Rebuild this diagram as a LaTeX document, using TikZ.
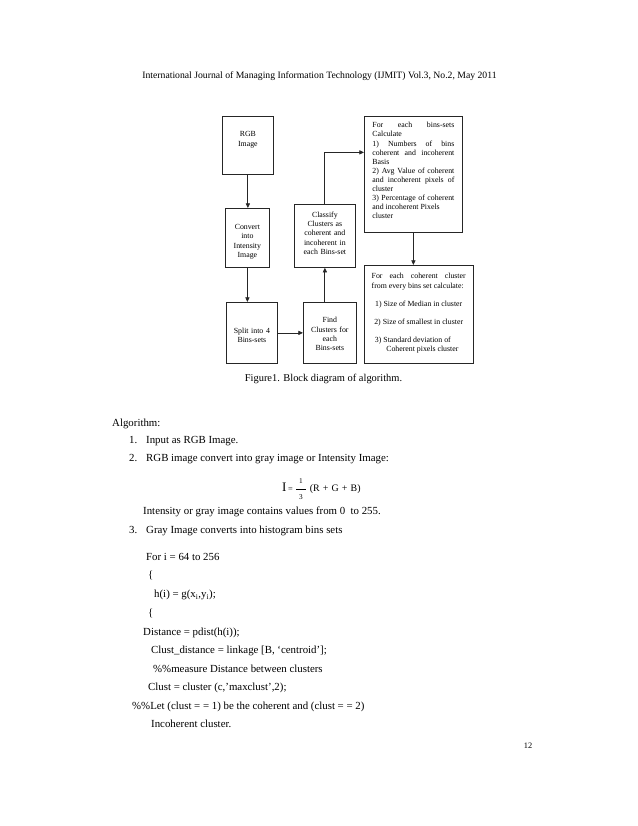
\documentclass[tikz,border=0pt]{standalone}
\usepackage{fontspec}
\setmainfont{Liberation Serif}
\usepackage{tikz}
\usetikzlibrary{arrows.meta}

\tikzset{
  blk/.style={draw=black!85, line width=0.75pt, anchor=north west, inner xsep=0pt, inner ysep=0pt, align=center, font=\fontsize{7.5}{8.7}\selectfont},
  flow/.style={draw=black!85, line width=0.75pt, -{Triangle[length=4.5pt,width=4pt]}},
  body/.style={anchor=base west, inner sep=0pt, font=\fontsize{10.4}{12}\selectfont},
}

\begin{document}
\begin{tikzpicture}[x=0.95925pt,y=-0.95925pt]
\fill[white] (0,0) rectangle (638,826);
\useasboundingbox (0,0) rectangle (638,826);

% running head
\node[anchor=base, inner sep=0pt, font=\fontsize{9.3}{11}\selectfont] (head) at (319.5,78) {International Journal of Managing Information Technology (IJMIT) Vol.3, No.2, May 2011};

% block diagram
\node[blk, text width=48.9pt, text height=19.7pt, text depth=36pt] (rgb) at (222,116) {RGB\\Image};
\node[blk, text width=42.2pt, text height=20.6pt, text depth=36pt] (convert) at (225,208) {Convert\\into\\Intensity\\Image};
\node[blk, text width=48.9pt, text height=30.2pt, text depth=28.3pt] (split) at (226,302) {Split into 4\\Bins-sets};
\node[blk, text width=50.8pt, text height=19.7pt, text depth=38.8pt] (find) at (303,302) {Find\\Clusters for\\each\\Bins-sets};
\node[blk, text width=58.5pt, text height=12.9pt, text depth=47.5pt] (classify) at (294,204) {Classify\\Clusters as\\coherent and\\incoherent in\\each Bins-set};

\node[blk, align=justify, inner xsep=7.7pt, text width=78.6pt, text height=11pt, text depth=100.2pt] (bins) at (364,116)
  {For each bins-sets\linebreak Calculate\newline 1) Numbers of bins\linebreak coherent and incoherent\linebreak Basis\newline 2) Avg Value of coherent\linebreak and incoherent pixels of\linebreak cluster\newline 3) Percentage of coherent\linebreak and incoherent Pixels\newline cluster};

\node[blk, align=justify, inner xsep=7pt, text width=90.2pt, text height=13pt, text depth=81.1pt] (coherent) at (364,265)
  {For each coherent cluster\linebreak from every bins set calculate:\par\vspace{8.7pt}%
  {\centering 1) Size of Median in cluster\par\vspace{8.7pt}2) Size of smallest in cluster\par\vspace{8.7pt}3) Standard deviation of\hspace*{8pt}\newline\hspace*{7pt}Coherent pixels cluster\par}};

\draw[flow] (rgb.south) -- (rgb.south |- convert.north);
\draw[flow] (convert.south) -- (convert.south |- split.north);
\draw[flow] (split.east) -- (split.east -| find.west);
\draw[flow] (classify.south |- find.north) -- (classify.south);
\draw[flow] (classify.north) |- (bins.156);
\draw[flow] (bins.south) -- (bins.south |- coherent.north);

\node[anchor=base, inner sep=0pt, font=\fontsize{10}{12}\selectfont] (caption) at (323.5,381) {Figure1. Block diagram of algorithm.};

% algorithm text
\node[body] (alg) at (112,426.5) {Algorithm:};
\node[body] (n1) at (129,443.5) {1.};
\node[body] (s1) at (146,443.5) {Input as RGB Image.};
\node[body] (n2) at (129,461.5) {2.};
\node[body] (s2) at (146,461.5) {RGB image convert into gray image or Intensity Image:};

\node[anchor=base west, inner sep=0pt] (eq) at (282,491.5)
  {{\fontsize{12.5}{14}\selectfont I}\hspace{1.5pt}{\fontsize{8}{9}\selectfont =}\hspace{2pt}$\displaystyle\frac{\makebox[9pt]{\fontsize{7}{8}\selectfont\rule[-3.5pt]{0pt}{0pt}1}}{\makebox[9pt]{\fontsize{7}{8}\selectfont\rule{0pt}{9pt}3}}$\hspace{3pt}{\fontsize{9.5}{10}\selectfont (R\hspace{3pt}+\hspace{3pt}G\hspace{3pt}+\hspace{3pt}B)}};

\node[body] (s2b) at (143,514.5) {Intensity or gray image contains values from 0\ \ to 255.};
\node[body] (n3) at (129,533.5) {3.};
\node[body] (s3) at (146,533.5) {Gray Image converts into histogram bins sets};

\node[body] (c1) at (146,560.5) {For i = 64 to 256};
\node[body] (c2) at (148,578.5) {\{};
\node[body] (c3) at (154,597.5) {h(i) = g(x\textsubscript{i},y\textsubscript{i});};
\node[body] (c4) at (148,616.5) {\{};
\node[body] (c5) at (143,635.5) {Distance = pdist(h(i));};
\node[body] (c6) at (151,653.5) {Clust\_distance = linkage [B, ‘centroid’];};
\node[body] (c7) at (153,672.5) {\%\%measure Distance between clusters};
\node[body] (c8) at (148,690.5) {Clust = cluster (c,’maxclust’,2);};
\node[body] (c9) at (132,709.5) {\%\%Let (clust = = 1) be the coherent and (clust = = 2)};
\node[body] (c10) at (151,727.5) {Incoherent cluster.};

% page number
\node[anchor=base, inner sep=0pt, font=\fontsize{8}{10}\selectfont] (page) at (528,748) {12};
\end{tikzpicture}
\end{document}
